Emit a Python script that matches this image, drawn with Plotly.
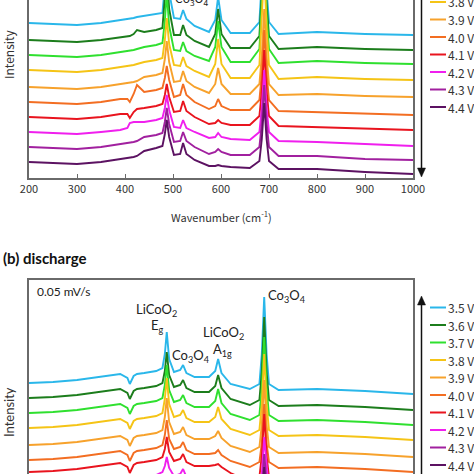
import plotly.graph_objects as go

# ---------------- data (arbitrary intensity units) ----------------
wavenumber = [200, 250, 300, 350, 390, 405, 410, 418, 425, 440, 465, 478, 483, 487, 492,
              502, 515, 521, 528, 545, 575, 588, 594, 601, 620, 660, 680, 685, 690, 695,
              700, 720, 800, 900, 1000]

voltages = ["3.5 V", "3.6 V", "3.7 V", "3.8 V", "3.9 V", "4.0 V", "4.1 V", "4.2 V", "4.3 V", "4.4 V"]
colors = ["#2AB7EA", "#1C7D1C", "#2FE02F", "#F5C416", "#F7A22C", "#F36E22", "#E9141E",
          "#F01FEE", "#A1209F", "#5C1262"]

# (a) charge, offset-stacked spectra
charge_35 = [155,154,153,155,158,159,159,160,161,162,164,165,192,225,186,160,159,168,159,152,146,158,181,158,145,145,156,188,240,188,156,144,146,144,143]
charge_36 = [138,137,136,138,141,142,142,144,148,146,148,150,175,205,169,143,143,153,143,137,131,144,169,144,130,130,142,175,230,175,142,129,131,129,128]
charge_37 = [123,122,121,123,126,127,127,128,129,131,133,135,157,185,152,128,127,136,127,122,117,131,157,131,116,116,129,163,221,163,129,115,117,115,114]
charge_38 = [108,107,106,108,111,112,112,113,114,116,118,120,138,160,134,113,112,121,112,107,101,114,139,114,100,100,113,150,210,150,113,99,101,99,98]
charge_39 = [91,90,89,91,94,95,95,96,97,101,103,105,119,137,116,96,97,107,97,91,85,94,110,94,84,84,94,122,169,122,94,83,84,82,81]
charge_40 = [76,75,74,76,79,79,76,84,93,86,88,90,100,112,98,81,83,94,83,76,69,72,79,72,68,68,78,104,148,104,78,67,66,64,63]
charge_41 = [61,60,59,61,64,64,60,66,69,70,72,74,83,94,81,66,67,77,67,61,54,55,58,55,53,53,62,87,128,87,62,52,51,49,48]
charge_42 = [46,45,44,46,48,50,55,56,56,56,58,60,70,83,68,51,50,58,50,46,40,41,45,41,39,38,46,70,108,70,46,37,36,34,32]
charge_43 = [31,30,29,31,34,35,35,36,37,41,43,45,56,70,54,36,37,46,37,31,24,26,29,26,23,23,31,55,93,55,31,22,22,19,18]
charge_44 = [16,15,14,16,19,20,20,21,22,27,30,32,44,58,41,23,24,35,24,18,12,12,13,12,11,10,17,39,75,39,17,9,9,6,4]

# (b) discharge, offset-stacked spectra
dis_35 = [91,92,94,97,100,96,90,98,100,101,103,106,120,142,115,102,104,109,101,97,97,103,115,101,90,85,90,120,177,120,90,84,85,83,80]
dis_36 = [76,77,79,82,85,81,75,83,85,86,88,91,103,122,99,87,89,94,86,82,82,88,99,86,75,69,74,102,157,102,74,68,69,67,64]
dis_37 = [61,62,64,67,70,66,60,68,70,71,73,76,89,109,84,72,74,79,71,67,67,73,85,71,60,54,59,86,137,86,59,53,54,52,49]
dis_38 = [46,47,49,52,55,51,45,53,55,56,58,61,75,96,70,57,59,64,56,52,52,57,67,55,45,39,44,70,120,70,44,38,39,37,34]
dis_39 = [29,30,32,35,38,34,28,36,38,39,41,44,57,76,52,40,42,47,39,35,35,38,43,36,28,22,27,49,94,49,27,21,22,20,17]
dis_40 = [14,15,17,20,23,19,13,21,23,24,26,29,39,54,35,25,27,32,24,20,20,21,24,19,13,7,12,31,70,31,12,6,7,5,2]
dis_41 = [2,3,5,8,11,7,1,9,11,12,14,17,25,37,22,13,15,20,12,8,8,9,10,7,1,-8,-3,18,60,18,-3,-9,-8,-10,-13]
dis_42 = [-13,-12,-10,-7,-4,-8,-14,-6,-4,-3,-1,2,8,17,6,-2,0,5,-3,-7,-7,-7,-6,-9,-14,-23,-18,0,37,0,-18,-24,-23,-25,-28]
dis_43 = [-28,-27,-25,-22,-19,-23,-29,-21,-19,-18,-16,-13,-8,-1,-10,-17,-15,-10,-18,-22,-22,-22,-21,-24,-29,-38,-33,-16,20,-16,-33,-39,-38,-40,-43]
dis_44 = [-43,-42,-40,-37,-34,-38,-44,-36,-34,-33,-31,-28,-23,-16,-25,-32,-30,-25,-33,-37,-37,-37,-37,-39,-44,-53,-48,-30,7,-30,-48,-54,-53,-55,-58]

xticks = [200, 300, 400, 500, 600, 700, 800, 900, 1000]

charge = [charge_35, charge_36, charge_37, charge_38, charge_39,
          charge_40, charge_41, charge_42, charge_43, charge_44]
discharge = [dis_35, dis_36, dis_37, dis_38, dis_39, dis_40, dis_41, dis_42, dis_43, dis_44]

# ---------------- layout helpers (pixel -> paper) ----------------
W = 474
ML, MR = 29, 61
PW = W - ML - MR


def pxx(x):
    return (x - ML) / PW


def pxy(y):
    return 1 - y / W


JP = "Noto Sans CJK JP"
SANS = "Lato, Open Sans, sans-serif"
AX = "#6a6a6a"

fig = go.Figure()
for name, col, ys in zip(voltages, colors, charge):
    fig.add_trace(go.Scatter(x=wavenumber, y=ys, mode="lines", name=name,
                             line=dict(color=col, width=1.9), xaxis="x", yaxis="y",
                             showlegend=False))
for name, col, ys in zip(voltages, colors, discharge):
    fig.add_trace(go.Scatter(x=wavenumber, y=ys, mode="lines", name=name,
                             line=dict(color=col, width=1.9), xaxis="x2", yaxis="y2",
                             showlegend=False))

annotations = []
shapes = []

# legends (custom, drawn beside each panel)
top_rows = [-50.5 + 17.5 * i for i in range(10)]
bot_rows = [307.5 + 17.5 * i for i in range(10)]
for rows in (top_rows, bot_rows):
    for name, col, yy in zip(voltages, colors, rows):
        shapes.append(dict(type="line", xref="paper", yref="paper",
                           x0=pxx(430), x1=pxx(446), y0=pxy(yy), y1=pxy(yy),
                           line=dict(color=col, width=2)))
        annotations.append(dict(text=name, xref="paper", yref="paper", x=pxx(446), y=pxy(yy),
                                xanchor="left", yanchor="middle", showarrow=False,
                                font=dict(family=JP, size=12, color="#333")))

# arrows
ax_x = 421.5
shapes.append(dict(type="line", xref="paper", yref="paper", x0=pxx(ax_x), x1=pxx(ax_x),
                   y0=pxy(-5), y1=pxy(169), line=dict(color="#111", width=1.5)))
shapes.append(dict(type="path", xref="paper", yref="paper",
                   path=f"M {pxx(ax_x-4)},{pxy(168)} L {pxx(ax_x+4)},{pxy(168)} L {pxx(ax_x)},{pxy(177)} Z",
                   fillcolor="#111", line=dict(color="#111", width=0.5)))
shapes.append(dict(type="line", xref="paper", yref="paper", x0=pxx(ax_x), x1=pxx(ax_x),
                   y0=pxy(480), y1=pxy(304), line=dict(color="#111", width=1.5)))
shapes.append(dict(type="path", xref="paper", yref="paper",
                   path=f"M {pxx(ax_x-4)},{pxy(305)} L {pxx(ax_x+4)},{pxy(305)} L {pxx(ax_x)},{pxy(296)} Z",
                   fillcolor="#111", line=dict(color="#111", width=0.5)))


def txt(t, x, y, fam=SANS, size=13, xa="center", ya="middle", color="#222", angle=0):
    annotations.append(dict(text=t, xref="paper", yref="paper", x=pxx(x), y=pxy(y),
                            xanchor=xa, yanchor=ya, showarrow=False, textangle=angle,
                            font=dict(family=fam, size=size, color=color)))


# top panel texts
txt("Co<sub>3</sub>O<sub>4</sub>", 192, -1, fam=JP, size=12)
txt("Intensity", 9, 54, fam=JP, size=12, angle=-90, color="#333")
txt("Wavenumber (cm<sup>-1</sup>)", 221, 216, fam=JP, size=11, color="#333")

# bottom panel texts
txt("<b>(b) discharge</b>", 1, 258, size=15, xa="left", color="#111")
txt("0.05 mV/s", 35, 291, size=12, xa="left")
txt("LiCoO<sub>2</sub>", 156, 310, size=13)
txt("E<sub>g</sub>", 157, 326, size=13)
txt("Co<sub>3</sub>O<sub>4</sub>", 191, 356, size=13)
txt("LiCoO<sub>2</sub>", 223, 333, size=13)
txt("A<sub>1g</sub>", 222, 350, size=13)
txt("Co<sub>3</sub>O<sub>4</sub>", 287, 296, size=13)
txt("Intensity", 9, 412, size=13, angle=-90, color="#333")

fig.update_layout(
    width=W, height=W,
    margin=dict(l=ML, r=MR, t=0, b=0),
    paper_bgcolor="white", plot_bgcolor="white",
    showlegend=False,
    xaxis=dict(domain=[0, 1], range=[200, 1000], anchor="y", tickvals=xticks,
               ticks="inside", ticklen=4, tickcolor=AX, showline=True, linecolor=AX,
               linewidth=1.5, showgrid=False, zeroline=False,
               tickfont=dict(family=JP, size=11, color="#333")),
    yaxis=dict(domain=[1 - 178 / W, 1], range=[0, 178], anchor="x", showline=True,
               mirror=True, linecolor=AX, linewidth=1.5, showticklabels=False,
               ticks="", showgrid=False, zeroline=False),
    xaxis2=dict(domain=[0, 1], range=[200, 1000], anchor="y2", side="top", showline=True,
                linecolor=AX, linewidth=1.5, showticklabels=False, ticks="",
                showgrid=False, zeroline=False),
    yaxis2=dict(domain=[0, 1 - 280 / W], range=[0, 194], anchor="x2", showline=True,
                mirror=True, linecolor=AX, linewidth=1.5, showticklabels=False,
                ticks="", showgrid=False, zeroline=False),
    annotations=annotations,
    shapes=shapes,
)

fig.write_html("out.html")
